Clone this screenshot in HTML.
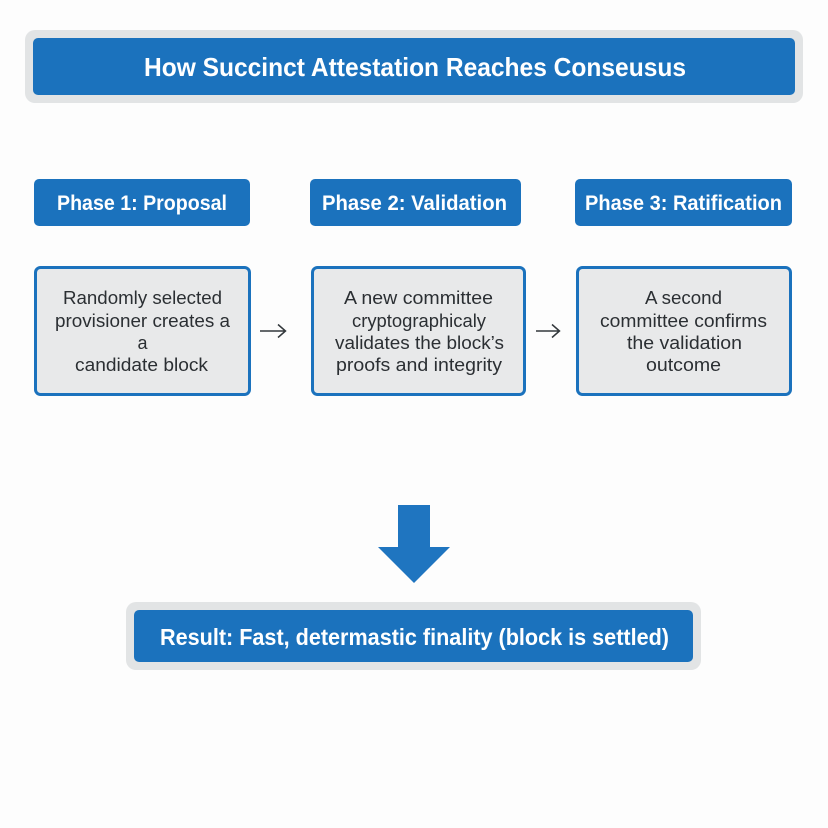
<!DOCTYPE html>
<html>
<head>
<meta charset="utf-8">
<style>
html,body{margin:0;padding:0;background:#fdfdfd;width:828px;height:828px;overflow:hidden}
svg{display:block}
text{font-family:"Liberation Sans",sans-serif}
.h{fill:#fff;font-weight:bold;text-anchor:start}
.b{fill:#2b2f33;font-size:18px;text-anchor:start}
</style>
</head>
<body>
<svg width="828" height="828" viewBox="0 0 828 828" xmlns="http://www.w3.org/2000/svg">
<rect width="828" height="828" fill="#fdfdfd"/>

<!-- Title -->
<rect x="25" y="30" width="778" height="73" rx="10" fill="#e2e4e5"/>
<rect x="33" y="38" width="762" height="57" rx="5" fill="#1b72bd"/>
<text class="h" x="144" y="76" font-size="26" textLength="542" lengthAdjust="spacingAndGlyphs">How Succinct Attestation Reaches Conseusus</text>

<!-- Phase headers -->
<rect x="34" y="179" width="216" height="47" rx="5" fill="#1b72bd"/>
<text class="h" x="57" y="210" font-size="21" textLength="170" lengthAdjust="spacingAndGlyphs">Phase 1: Proposal</text>
<rect x="310" y="179" width="211" height="47" rx="5" fill="#1b72bd"/>
<text class="h" x="322" y="210" font-size="21" textLength="185" lengthAdjust="spacingAndGlyphs">Phase 2: Validation</text>
<rect x="575" y="179" width="217" height="47" rx="5" fill="#1b72bd"/>
<text class="h" x="585" y="210" font-size="21" textLength="197" lengthAdjust="spacingAndGlyphs">Phase 3: Ratification</text>

<!-- Body boxes -->
<rect x="35.5" y="267.5" width="214" height="127" rx="5" fill="#e8e9ea" stroke="#1b72bd" stroke-width="3"/>
<rect x="312.5" y="267.5" width="212" height="127" rx="5" fill="#e8e9ea" stroke="#1b72bd" stroke-width="3"/>
<rect x="577.5" y="267.5" width="213" height="127" rx="5" fill="#e8e9ea" stroke="#1b72bd" stroke-width="3"/>

<text class="b" x="63" y="304" textLength="159" lengthAdjust="spacingAndGlyphs">Randomly selected</text>
<text class="b" x="55" y="327" textLength="175" lengthAdjust="spacingAndGlyphs">provisioner creates a</text>
<text class="b" x="137.500" y="349">a</text>
<text class="b" x="75" y="371" textLength="133" lengthAdjust="spacingAndGlyphs">candidate block</text>

<text class="b" x="344" y="304" textLength="149" lengthAdjust="spacingAndGlyphs">A new committee</text>
<text class="b" x="352" y="327" textLength="134" lengthAdjust="spacingAndGlyphs">cryptographicaly</text>
<text class="b" x="335" y="349" textLength="169" lengthAdjust="spacingAndGlyphs">validates the block’s</text>
<text class="b" x="336" y="371" textLength="166" lengthAdjust="spacingAndGlyphs">proofs and integrity</text>

<text class="b" x="645" y="304" textLength="77" lengthAdjust="spacingAndGlyphs">A second</text>
<text class="b" x="600" y="327" textLength="167" lengthAdjust="spacingAndGlyphs">committee confirms</text>
<text class="b" x="627" y="349" textLength="115" lengthAdjust="spacingAndGlyphs">the validation</text>
<text class="b" x="646" y="371" textLength="75" lengthAdjust="spacingAndGlyphs">outcome</text>

<!-- Small arrows -->
<g fill="none" stroke="#33383c" stroke-width="1.5">
<path d="M260 331H285M278 324.500L285.500 331L278 337.500"/>
<path d="M536 331H559M552 324.500L559.500 331L552 337.500"/>
</g>

<!-- Down arrow -->
<polygon points="398,505 430,505 430,547 450,547 414,583 378,547 398,547" fill="#1f75c0"/>

<!-- Result -->
<rect x="126" y="602" width="575" height="68" rx="10" fill="#e2e4e5"/>
<rect x="134" y="610" width="559" height="52" rx="5" fill="#1b72bd"/>
<text class="h" x="160" y="645" font-size="23" textLength="509" lengthAdjust="spacingAndGlyphs">Result: Fast, determastic finality (block is settled)</text>
</svg>
</body>
</html>
